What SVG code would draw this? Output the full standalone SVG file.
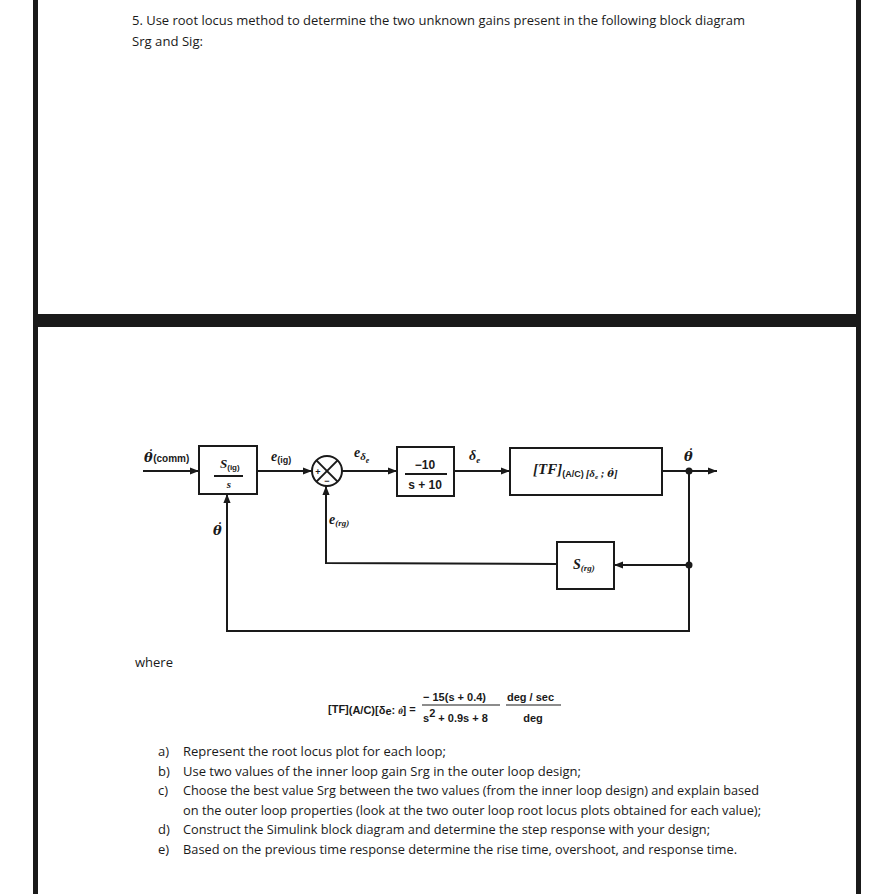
<svg xmlns="http://www.w3.org/2000/svg" width="894" height="894" viewBox="0 0 894 894">
<defs>
<marker id="ah" viewBox="0 0 10 10" refX="10" refY="5" markerWidth="9" markerHeight="9" markerUnits="userSpaceOnUse" orient="auto">
<path d="M0,1 L10,5 L0,9 Z" fill="#1a1a1a"/>
</marker>
</defs>
<style>
.ln{stroke:#1a1a1a;stroke-width:2;fill:none}
.bx{stroke:#1a1a1a;stroke-width:2;fill:#fff}
.q{font-family:"Open Sans","Liberation Sans",sans-serif;font-size:13px;fill:#1a1a1a}
.m{font-family:"Liberation Serif",serif;font-style:italic;font-weight:bold;fill:#1a1a1a}
.th{font-family:"DejaVu Serif",serif;font-style:italic;font-weight:bold;fill:#1a1a1a}
.ms{font-family:"Liberation Sans",sans-serif;font-weight:bold;fill:#1a1a1a}
.f{font-family:"Liberation Sans",sans-serif;font-weight:bold;font-size:11px;fill:#1a1a1a}
</style>
<rect width="894" height="894" fill="#fff"/>
<rect x="33" y="0" width="5" height="894" fill="#1a1a1a"/>
<rect x="856" y="0" width="5" height="894" fill="#1a1a1a"/>
<rect x="33" y="314" width="828" height="13" fill="#1a1a1a"/>

<text class="q" x="132" y="25" textLength="613" lengthAdjust="spacingAndGlyphs">5. Use root locus method to determine the two unknown gains present in the following block diagram</text>
<text class="q" x="132" y="46" textLength="71" lengthAdjust="spacingAndGlyphs">Srg and Sig:</text>

<g id="connectors">
<line class="ln" x1="143" y1="471" x2="199" y2="471" marker-end="url(#ah)"/>
<line class="ln" x1="257" y1="471" x2="312" y2="471" marker-end="url(#ah)"/>
<line class="ln" x1="342" y1="471" x2="397" y2="471" marker-end="url(#ah)"/>
<line class="ln" x1="454" y1="471" x2="510" y2="471" marker-end="url(#ah)"/>
<line class="ln" x1="662" y1="471" x2="717" y2="471" marker-end="url(#ah)"/>
<polyline class="ln" points="689,471 689,631 227,631 227,494" marker-end="url(#ah)"/>
<line class="ln" x1="689" y1="565" x2="614" y2="565" marker-end="url(#ah)"/>
<polyline class="ln" points="557,564 326,563 326,486" marker-end="url(#ah)"/>
<circle cx="689" cy="471" r="3.5" fill="#1a1a1a"/>
<circle cx="689" cy="565" r="3.5" fill="#1a1a1a"/>
</g>

<g id="labels">
<text x="144" y="462"><tspan class="th" font-size="13">θ</tspan><tspan class="th" font-size="13" dx="-6" dy="-3">˙</tspan><tspan class="ms" font-size="10" dx="0" dy="3">(comm)</tspan></text>
<text x="271" y="461"><tspan class="m" font-size="14">e</tspan><tspan class="ms" font-size="9" dy="2">(ig)</tspan></text>
<text x="354" y="457"><tspan class="m" font-size="14">e</tspan><tspan class="m" font-size="11" dy="3">δ</tspan><tspan class="m" font-size="8" dy="3">e</tspan></text>
<text x="469" y="460"><tspan class="m" font-size="14">δ</tspan><tspan class="m" font-size="9" dy="3">e</tspan></text>
<text x="684" y="461"><tspan class="th" font-size="13">θ</tspan><tspan class="th" font-size="13" dx="-6" dy="-3">˙</tspan></text>
<text x="213" y="535"><tspan class="th" font-size="13">θ</tspan><tspan class="th" font-size="13" dx="-6" dy="-3">˙</tspan></text>
<text x="329" y="524"><tspan class="m" font-size="14">e</tspan><tspan class="m" font-size="9" dy="2">(rg)</tspan></text>
</g>

<g id="Sig">
<rect class="bx" x="199" y="446" width="58" height="48"/>
<text x="220" y="468"><tspan class="m" font-size="13">S</tspan><tspan class="ms" font-size="8" dy="2">(ig)</tspan></text>
<line class="ln" x1="214" y1="476" x2="243" y2="476" stroke-width="1.5"/>
<text class="m" x="229" y="488" font-size="11" text-anchor="middle">s</text>
</g>

<g id="sum">
<circle cx="327" cy="471" r="15" fill="#fff" stroke="#1a1a1a" stroke-width="2"/>
<line class="ln" x1="316.4" y1="460.4" x2="337.6" y2="481.6" stroke-width="1.6"/>
<line class="ln" x1="337.6" y1="460.4" x2="316.4" y2="481.6" stroke-width="1.6"/>
<text class="ms" x="318" y="475" font-size="9" text-anchor="middle">+</text>
<text class="ms" x="327" y="484" font-size="9" text-anchor="middle">−</text>
</g>

<g id="gain">
<rect class="bx" x="397" y="447" width="57" height="49"/>
<text class="ms" x="425" y="469" font-size="12" text-anchor="middle">−10</text>
<line class="ln" x1="405" y1="474" x2="447" y2="474" stroke-width="1.5"/>
<text class="ms" x="425" y="489" font-size="12" text-anchor="middle">s + 10</text>
</g>

<g id="TF">
<rect class="bx" x="510" y="448" width="152" height="47"/>
<text x="533" y="474"><tspan class="m" font-size="15">[TF]</tspan><tspan class="ms" font-size="9" dy="3">(A/C)</tspan><tspan class="m" font-size="11" dx="2">[δ</tspan><tspan class="m" font-size="7" dy="2">e</tspan><tspan class="m" font-size="11" dy="-2"> ; </tspan><tspan class="th" font-size="10">θ</tspan><tspan class="th" font-size="10" dx="-5" dy="-2">˙</tspan><tspan class="m" font-size="11" dy="2">]</tspan></text>
</g>

<g id="Srg">
<rect class="bx" x="557" y="542" width="57" height="47"/>
<text x="573" y="569"><tspan class="m" font-size="14">S</tspan><tspan class="m" font-size="9" dy="2">(rg)</tspan></text>
</g>

<text class="q" x="135" y="667">where</text>

<g id="formula">
<text x="328" y="713"><tspan class="f">[TF]</tspan><tspan class="f" font-size="7" dy="1">(A/C)[δ</tspan><tspan class="f" font-size="5" dy="1">e</tspan><tspan class="f" font-size="7" dy="-1">: </tspan><tspan class="th" font-size="7">θ</tspan><tspan class="th" font-size="7" dx="-4" dy="-1">˙</tspan><tspan class="f" font-size="7" dy="1">]</tspan><tspan class="f" dy="-1"> =</tspan></text>
<text class="f" x="423" y="701">− 15(s + 0.4)</text>
<line x1="422" y1="705" x2="500" y2="705" stroke="#1a1a1a" stroke-width="1.2"/>
<text x="423" y="722"><tspan class="f">s</tspan><tspan class="f" font-size="7" dy="-5">2</tspan><tspan class="f" dy="5"> + 0.9s + 8</tspan></text>
<text class="f" x="507" y="701">deg / sec</text>
<line x1="506" y1="705" x2="561" y2="705" stroke="#1a1a1a" stroke-width="1.2"/>
<text class="f" x="533" y="722" text-anchor="middle">deg</text>
</g>

<g class="q">
<text x="158" y="756">a)</text><text x="183" y="756">Represent the root locus plot for each loop;</text>
<text x="158" y="776">b)</text><text x="183" y="776">Use two values of the inner loop gain Srg in the outer loop design;</text>
<text x="158" y="795">c)</text><text x="183" y="795" textLength="576" lengthAdjust="spacingAndGlyphs">Choose the best value Srg between the two values (from the inner loop design) and explain based</text>
<text x="183" y="815" textLength="578" lengthAdjust="spacingAndGlyphs">on the outer loop properties (look at the two outer loop root locus plots obtained for each value);</text>
<text x="158" y="834">d)</text><text x="183" y="834" textLength="527" lengthAdjust="spacingAndGlyphs">Construct the Simulink block diagram and determine the step response with your design;</text>
<text x="158" y="854">e)</text><text x="183" y="854" textLength="554" lengthAdjust="spacingAndGlyphs">Based on the previous time response determine the rise time, overshoot, and response time.</text>
</g>
</svg>
